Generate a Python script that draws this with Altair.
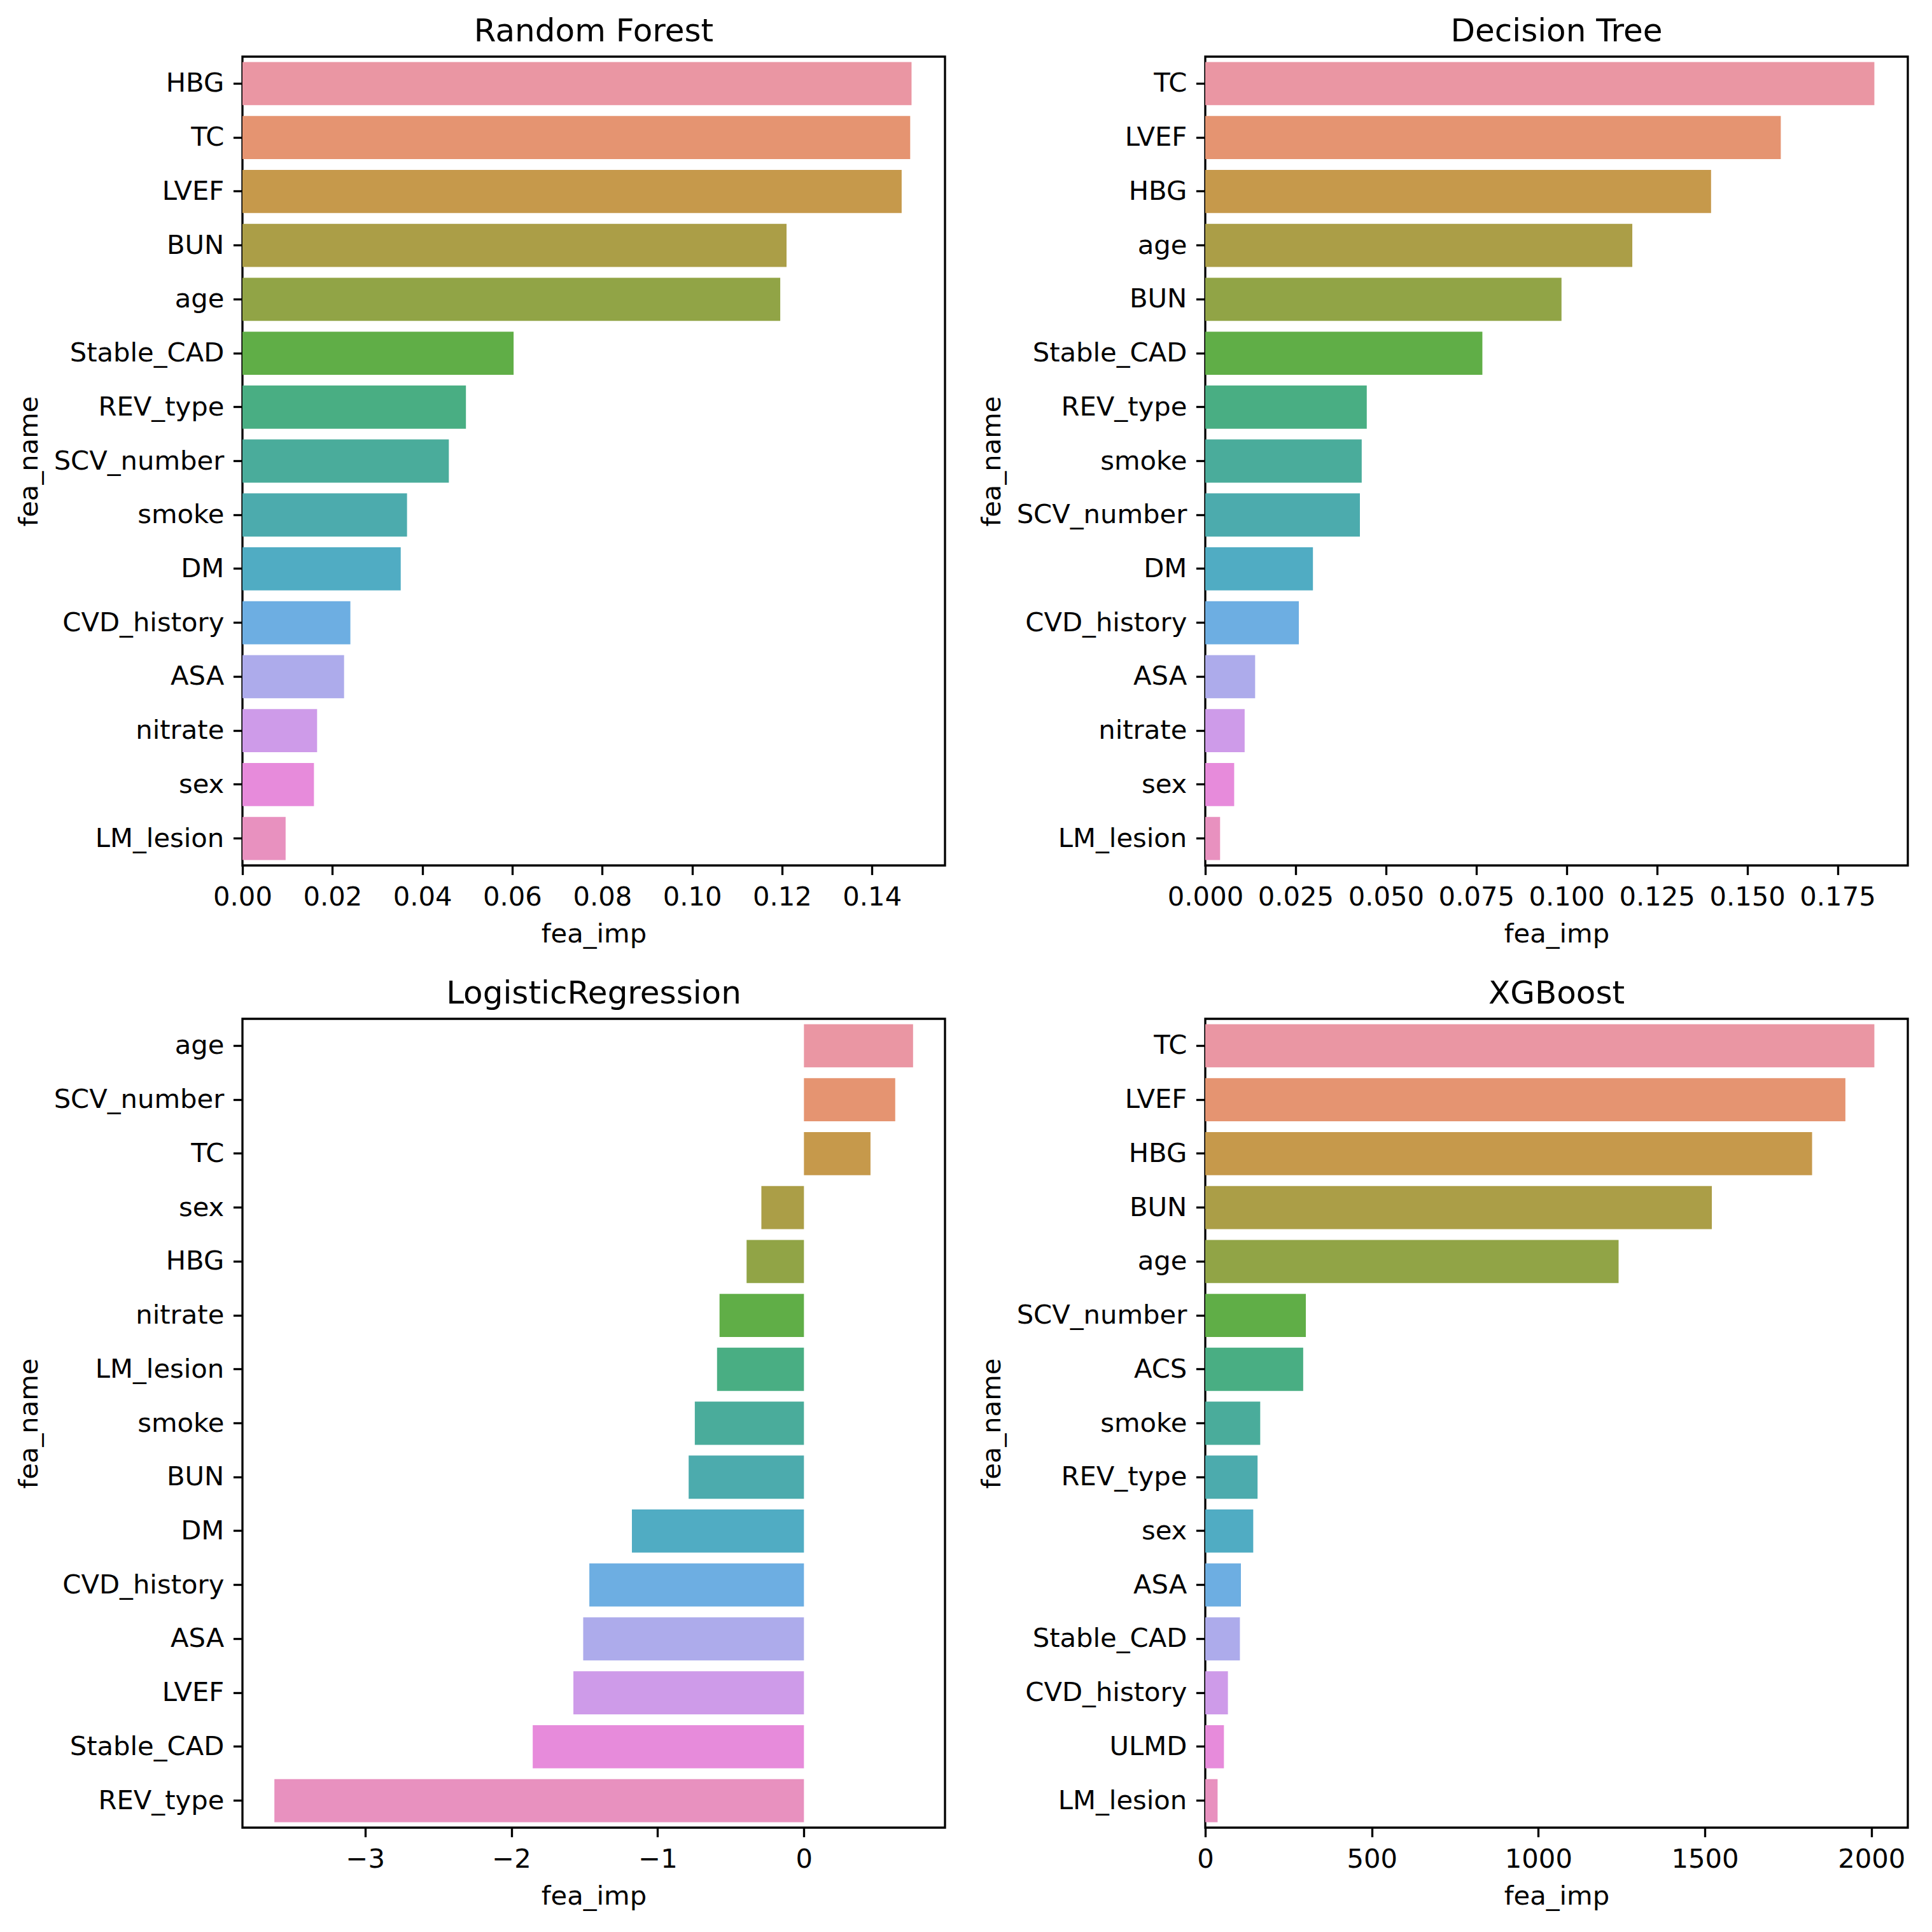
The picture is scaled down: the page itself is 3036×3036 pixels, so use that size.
import math
import colorsys
import altair as alt
import pandas as pd

# ---------------- data ----------------
rf_names = ["HBG", "TC", "LVEF", "BUN", "age", "Stable_CAD", "REV_type", "SCV_number",
            "smoke", "DM", "CVD_history", "ASA", "nitrate", "sex", "LM_lesion"]
rf_vals = [0.1488, 0.1485, 0.1466, 0.1210, 0.1196, 0.0603, 0.0497, 0.0459,
           0.0366, 0.0352, 0.0240, 0.0226, 0.0166, 0.0159, 0.0096]
rf_ticks = [0.0, 0.02, 0.04, 0.06, 0.08, 0.10, 0.12, 0.14]

dt_names = ["TC", "LVEF", "HBG", "age", "BUN", "Stable_CAD", "REV_type", "smoke",
            "SCV_number", "DM", "CVD_history", "ASA", "nitrate", "sex", "LM_lesion"]
dt_vals = [0.1852, 0.1593, 0.1400, 0.1182, 0.0986, 0.0767, 0.0447, 0.0433,
           0.0428, 0.0298, 0.0259, 0.0138, 0.0109, 0.0080, 0.0041]
dt_ticks = [0.0, 0.025, 0.05, 0.075, 0.10, 0.125, 0.15, 0.175]

lr_names = ["age", "SCV_number", "TC", "sex", "HBG", "nitrate", "LM_lesion", "smoke",
            "BUN", "DM", "CVD_history", "ASA", "LVEF", "Stable_CAD", "REV_type"]
lr_vals = [0.746, 0.624, 0.455, -0.291, -0.392, -0.577, -0.594, -0.746,
           -0.788, -1.176, -1.467, -1.509, -1.576, -1.854, -3.620]
lr_ticks = [-3, -2, -1, 0]

xgb_names = ["TC", "LVEF", "HBG", "BUN", "age", "SCV_number", "ACS", "smoke",
             "REV_type", "sex", "ASA", "Stable_CAD", "CVD_history", "ULMD", "LM_lesion"]
xgb_vals = [2009, 1922, 1822, 1521, 1241, 302, 294, 165,
            157, 144, 107, 104, 68, 56, 37]
xgb_ticks = [0, 500, 1000, 1500, 2000]

# ---------------- seaborn-like husl palette ----------------
_m = [[3.2406, -1.5372, -0.4986],
      [-0.9689, 1.8758, 0.0415],
      [0.0557, -0.2040, 1.0570]]
_refU, _refV = 0.19784, 0.46834
_lab_e, _lab_k = 0.008856, 903.3


def _max_chroma(L, H):
    hrad = math.radians(H)
    sinH, cosH = math.sin(hrad), math.cos(hrad)
    sub1 = (L + 16) ** 3 / 1560896.0
    sub2 = sub1 if sub1 > _lab_e else L / _lab_k
    result = float("inf")
    for m1, m2, m3 in _m:
        top = (0.99915 * m1 + 1.05122 * m2 + 1.14460 * m3) * sub2
        rbottom = 0.86330 * m3 - 0.17266 * m2
        lbottom = 0.12949 * m3 - 0.38848 * m1
        bottom = (rbottom * sinH + lbottom * cosH) * sub2
        for t in (0.0, 1.0):
            C = L * (top - 1.05122 * t) / (bottom + 0.17266 * sinH * t)
            if 0.0 < C < result:
                result = C
    return result


def _f_inv(t):
    return t ** 3 if t ** 3 > _lab_e else (116.0 * t - 16.0) / _lab_k


def _from_linear(c):
    return 12.92 * c if c <= 0.0031308 else 1.055 * c ** (1 / 2.4) - 0.055


def husl_to_rgb(H, S, L):
    C = _max_chroma(L, H) / 100.0 * S
    hr = math.radians(H)
    U, V = math.cos(hr) * C, math.sin(hr) * C
    varY = _f_inv((L + 16) / 116.0)
    varU = U / (13.0 * L) + _refU
    varV = V / (13.0 * L) + _refV
    Y = varY
    X = 0.0 - (9.0 * Y * varU) / ((varU - 4.0) * varV - varU * varV)
    Z = (9.0 * Y - (15.0 * varV * Y) - (varV * X)) / (3.0 * varV)
    rgb = [_from_linear(r[0] * X + r[1] * Y + r[2] * Z) for r in _m]
    return [min(1.0, max(0.0, c)) for c in rgb]


def make_palette(n, h=0.01, s=0.9, l=0.7, desat=0.75):
    out = []
    for i in range(n):
        hue = ((i / n + h) % 1) * 359
        r, g, b = husl_to_rgb(hue, s * 99, l * 99)
        hh, ll, ss = colorsys.rgb_to_hls(r, g, b)
        r, g, b = colorsys.hls_to_rgb(hh, ll, ss * desat)
        out.append("#%02x%02x%02x" % (round(r * 255), round(g * 255), round(b * 255)))
    return out


PALETTE = make_palette(15)

PW, PH = 1104, 1271
FS = 41.7


def panel(title, names, vals, ticks, fmt):
    lo, hi = min(0, min(vals)), max(0, max(vals))
    pad = (hi - lo) * 0.05
    dom = [lo - pad if lo < 0 else 0, hi + pad]
    df = pd.DataFrame({"fea_name": names, "fea_imp": vals, "c": PALETTE[:len(names)]})
    return alt.Chart(df, title=alt.Title(title)).mark_bar().encode(
        x=alt.X("fea_imp:Q",
                scale=alt.Scale(domain=dom, nice=False),
                axis=alt.Axis(values=ticks, format=fmt, title="fea_imp")),
        y=alt.Y("fea_name:N", sort=names,
                scale=alt.Scale(paddingInner=0.2, paddingOuter=0.1),
                axis=alt.Axis(title="fea_name")),
        color=alt.Color("c:N", scale=None, legend=None),
    ).properties(width=PW, height=PH)


chart = alt.concat(
    panel("Random Forest", rf_names, rf_vals, rf_ticks, ".2f"),
    panel("Decision Tree", dt_names, dt_vals, dt_ticks, ".3f"),
    panel("LogisticRegression", lr_names, lr_vals, lr_ticks, "d"),
    panel("XGBoost", xgb_names, xgb_vals, xgb_ticks, "d"),
    columns=2, spacing={"row": 241, "column": 409}, bounds="flush",
).properties(
    padding={"left": 15, "top": 15, "right": 10, "bottom": 10}
).configure(
    background="white",
    font="DejaVu Sans",
).configure_view(
    stroke="black", strokeWidth=3.33,
).configure_axis(
    domain=False, grid=False, labelLimit=1000, labelFlush=False, labelOverlap=False,
    maxExtent=1000,
    labelFont="DejaVu Sans", labelFontSize=FS, labelColor="black",
    titleFont="DejaVu Sans", titleFontSize=FS, titleColor="black", titleFontWeight="normal",
    tickColor="black", tickWidth=3.33, tickSize=14.6, labelPadding=14.6, titlePadding=16.7,
).configure_title(
    font="DejaVu Sans", fontSize=50, fontWeight="normal", color="black",
    offset=14, anchor="middle",
)

chart.save("out.html", embed_options={"renderer": "svg", "actions": False})
